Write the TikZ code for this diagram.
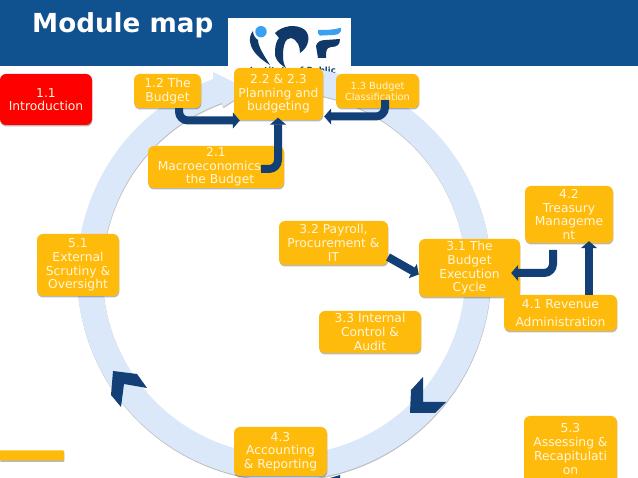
\documentclass[tikz,border=0pt]{standalone}
\usepackage{fontspec}
\setmainfont{DejaVu Sans}
\usetikzlibrary{arrows.meta,shadows,calc,positioning}
\definecolor{headerblue}{HTML}{10518F}
\definecolor{amberbox}{HTML}{FFBB0B}
\definecolor{ringblue}{HTML}{DAE8FA}
\definecolor{navy}{HTML}{123F75}
\definecolor{logoblue}{HTML}{3BA0EE}
\definecolor{boxtext}{HTML}{FFF6DC}
\tikzset{
  softshadow/.style={drop shadow={shadow xshift=0.4pt,shadow yshift=-1.5pt,fill=black,opacity=.28}},
  modbox/.style={rectangle,rounded corners=6pt,fill=amberbox,softshadow,text=boxtext,align=center,
    inner sep=0pt,font=\fontsize{12.3}{13.7}\selectfont},
  redbox/.style={modbox,fill=red!100},
  flow/.style={draw=navy,line width=8pt,rounded corners=9pt,-{Triangle[width=16pt,length=7pt]}},
  chevron/.style={fill=navy},
  logodark/.style={fill=navy!90!black},
}
\begin{document}
\begin{tikzpicture}[x=1pt,y=-1pt]
\useasboundingbox (0,0) rectangle (638,478);
\clip (0,0) rectangle (638,478);
\fill[white] (0,0) rectangle (638,478);
% header
\fill[headerblue] (0,0) rectangle (638,66.5);
\node[anchor=west,text=white,inner sep=0pt,font=\fontsize{26.2}{28}\bfseries\selectfont] (title) at (32,25) {Module map};
% logo
\fill[white] (228,18) rectangle (351,74);
\fill[logoblue] (261,31.7) circle[radius=5.7pt];
\fill[logodark] (253,31) .. controls (247,38) and (248,52) .. (270,65) .. controls (263,54) and (258,46) .. (258,40) .. controls (255,38) and (253,35) .. (253,31) -- cycle;
\fill[logodark] (275,33) .. controls (282,26) and (296,23) .. (305,30) .. controls (311,36) and (309,47) .. (300,53) .. controls (300,47) and (298,40) .. (291,38) .. controls (285,38) and (283,46) .. (283,56) .. controls (283,61) and (284,65) .. (286,68) .. controls (279,64) and (274,58) .. (275,52) .. controls (275,45) and (277,40) .. (279,38) -- cycle;
\fill[logoblue] (318,30) .. controls (326,30) and (334,30) .. (341,27.7) .. controls (342,33) and (338,35) .. (333,35) -- (320,35.6) .. controls (318,35) and (318,33) .. (318,30) -- cycle;
\fill[logodark] (318,58) -- (316,46) .. controls (317,42) and (320,40) .. (326,40) -- (340,39) .. controls (340,45) and (337,47) .. (331,47) .. controls (327,48) and (326,50) .. (326,53) -- (326,58) -- cycle;
\node[anchor=east,inner sep=0pt,text=navy,font=\fontsize{8.5}{10}\bfseries\selectfont] (logotext) at (336,70) {Institute of Public};
% ring
\coordinate (c) at (284,273.5);
\path[fill=ringblue,drop shadow={shadow xshift=0.3pt,shadow yshift=-1.2pt,fill=black,opacity=.25}]
  (c) ++(110:207pt) arc[start angle=110,end angle=440,radius=207pt]
  -- ($(c)+(80:181.5pt)$) arc[start angle=440,end angle=110,radius=181.5pt]
  -- (223,107) -- (250,90) -- (213,72) -- cycle;
% chevrons
\fill[chevron] (423,377) -- (411,390) -- (410,413) -- (435,413) -- (446,402) -- (423,402) -- cycle;
\fill[chevron] (113,371) -- (137,374) -- (147,388) -- (124,384) -- (121,407) -- (111,395) -- cycle;
\fill[chevron] (330,478) -- (340,475) -- (340,478) -- cycle;
% yellow bar
\fill[amberbox,softshadow] (0,450.5) -- (62,450.5) [rounded corners=1pt] -- (64,450.5) -- (64,460.5) [sharp corners] -- (0,460.5) -- cycle;
% boxes
\node[redbox,minimum width=92pt,minimum height=51pt] (m11) at (46,99.5) {1.1\\Introduction};
\node[modbox,minimum width=67pt,minimum height=34pt] (m12) at (167.5,91) {1.2 The\\Budget};
\node[modbox,minimum width=136pt,minimum height=42pt] (m21) at (216,167) {2.1\\Macroeconomics \phantom{\&}\\\hspace*{8pt}the Budget};
\node[modbox,minimum width=83pt,minimum height=34pt,font=\fontsize{9.8}{11}\selectfont] (m13) at (377.5,91) {1.3 Budget\\Classification};
\node[modbox,minimum width=109pt,minimum height=44pt] (m32) at (333.5,243) {3.2 Payroll,\\Procurement \&\\IT};
\node[modbox,minimum width=101pt,minimum height=58pt] (m31) at (469.5,268) {3.1 The\\Budget\\Execution\\Cycle};
\node[modbox,minimum width=88pt,minimum height=57pt] (m42) at (569,214.5) {4.2\\Treasury\\Manageme\\nt};
\node[modbox,minimum width=113pt,minimum height=36pt] (m41) at (560.5,313) {4.1 Revenue\\[4.8pt]Administration};
\node[modbox,minimum width=102pt,minimum height=42pt] (m33) at (370,332) {3.3 Internal\\Control \&\\Audit};
\node[modbox,minimum width=82pt,minimum height=62pt] (m51) at (78,265) {5.1\\External\\Scrutiny \&\\Oversight};
\node[modbox,minimum width=93pt,minimum height=49pt] (m43) at (280.5,451.5) {4.3\\Accounting\\\& Reporting};
\node[modbox,minimum width=93pt,minimum height=66pt] (m53) at (570.5,449) {5.3\\Assessing \&\\Recapitulati\\on};
\node[modbox,minimum width=89pt,minimum height=52pt] (m22) at (278.5,94) {2.2 \& 2.3\\Planning and\\budgeting};
% connectors
\coordinate (a12) at (m12.south -| 179,0);
\coordinate (a12b) at (179,120.5);
\coordinate (a12t) at (m22.west |- a12b);
\draw[flow] (a12) -- (a12b) -- ([xshift=6pt]a12t);
\coordinate (a13) at (385,100);
\coordinate (a13b) at (385,116.5);
\coordinate (a13t) at (m22.east |- a13b);
\draw[flow] (a13) -- (a13b) -- ([xshift=1pt]a13t);
\coordinate (a21) at (261,169);
\coordinate (a21b) at (278,169);
\coordinate (a21t) at (m22.south -| a21b);
\draw[flow] (a21) -- (a21b) -- ([yshift=2.5pt]a21t);
\draw[flow] (388,257) -- (m31.west |- 0,274.5);
\coordinate (a42) at (553,250);
\coordinate (a42b) at (553,273);
\draw[flow] (a42) -- (a42b) -- ([xshift=-9pt]m31.east |- a42b);
\coordinate (a41) at (m41.north -| 589,0);
\coordinate (a41t) at (m42.south -| 589,0);
\draw[flow] (a41) -- ([yshift=2pt]a41t);
\end{tikzpicture}
\end{document}
